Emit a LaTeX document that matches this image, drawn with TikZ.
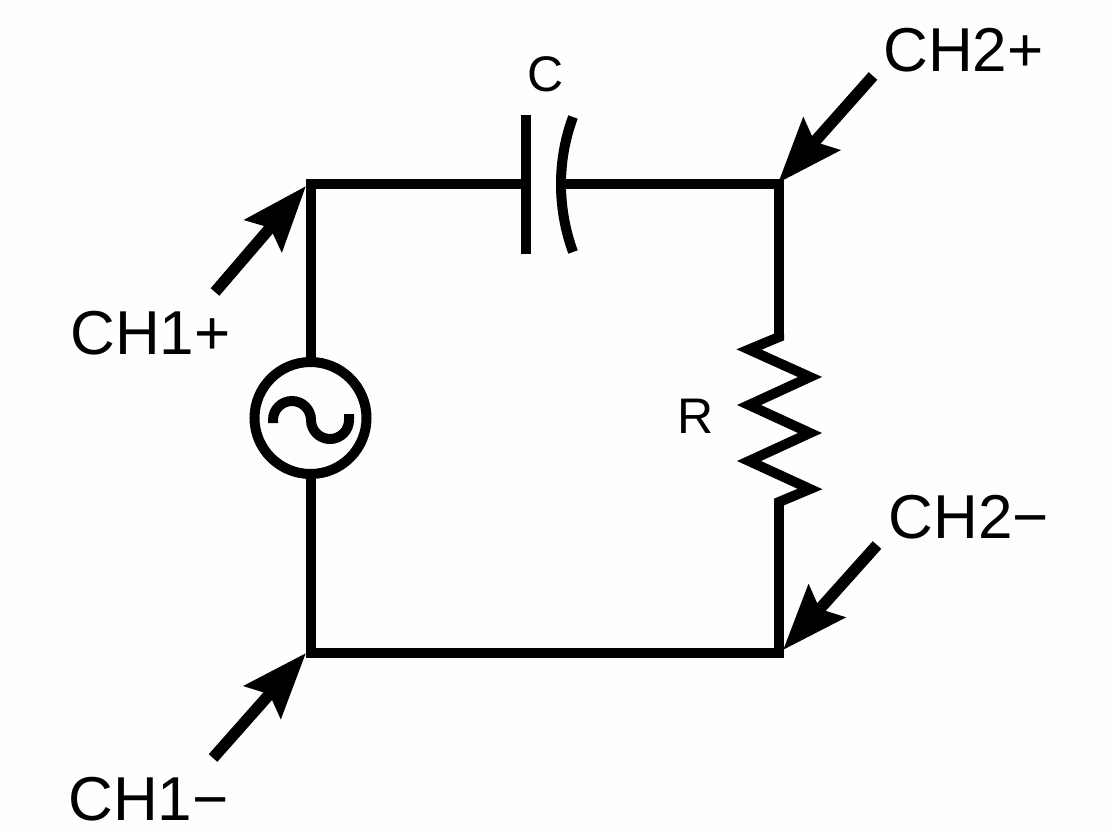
\documentclass[tikz,border=0pt]{standalone}
\usepackage{fontspec}
\setmainfont{Liberation Sans}
\usetikzlibrary{arrows.meta}
\definecolor{bgc}{RGB}{254,254,254}
\tikzset{
  wire/.style={line width=10pt,black,line cap=butt,line join=miter},
  probe/.style={line width=11.5pt,black,-{Stealth[length=65pt,width=48pt,inset=10pt]}},
  biglabel/.style={font=\fontsize{62}{62}\selectfont,inner sep=0pt,anchor=center},
  smalllabel/.style={font=\fontsize{50}{50}\selectfont,inner sep=0pt,anchor=center},
  source/.style={circle,draw,line width=10pt,minimum size=112pt,inner sep=0pt}
}
\begin{document}
\begin{tikzpicture}[x=1pt,y=-1pt]
\useasboundingbox[fill=bgc] (0,0) rectangle (1110,836);
% corners
\coordinate (tl) at (311,184);
\coordinate (tr) at (779,184);
\coordinate (bl) at (311,653);
\coordinate (br) at (779,653);
\coordinate (capL) at (526,184);
\coordinate (capR) at (562,184);
\coordinate (resT) at (779,334);
\coordinate (resB) at (779,504);
% probe ends
\coordinate (t1) at (873,76);
\coordinate (t2) at (215,292);
\coordinate (t3) at (213,758);
\coordinate (t4) at (877,545);
\coordinate (p1) at (778,183);
\coordinate (p2) at (306,186);
\coordinate (p3) at (306,653);
\coordinate (p4) at (783,650);
% source
\node[source] (src) at (310.5,418) {};
\draw[wire] (273,423) -- (273,420) arc[start angle=180,end angle=360,radius=19] arc[start angle=180,end angle=0,radius=19] -- (349,414);
% wires
\draw[wire,line cap=rect] (tl |- src.north) -- (tl) -- (capL);
\draw[wire,line cap=rect] (capR) -- (tr);
\draw[wire] (tr) -- (resT);
\draw[wire] (resB) -- (br);
\draw[wire,line cap=rect] (br) -- (bl) -- (bl |- src.south);
% capacitor
\draw[wire] (526,115) -- (526,254);
\draw[wire] (573,117) .. controls (557,160) and (557,208) .. (573,252);
% resistor
\draw[wire] (resT) -- (779,337) -- (749,349.5) -- (810,377) -- (749,405) -- (810,433) -- (749,461) -- (810,489) -- (779,502) -- (resB);
% probes
\draw[probe] (t1) -- (p1);
\draw[probe] (t2) -- (p2);
\draw[probe] (t3) -- (p3);
\draw[probe] (t4) -- (p4);
% labels
\node[biglabel] (ch2p) at (963.5,50) {CH2+};
\node[biglabel] (ch1p) at (150.5,333) {CH1+};
\node[biglabel] (ch2m) at (969,517) {CH2−};
\node[biglabel] (ch1m) at (148.5,799) {CH1−};
\node[smalllabel] (c) at (545.5,74) {C};
\node[smalllabel] (r) at (695.5,416) {R};
\end{tikzpicture}
\end{document}
